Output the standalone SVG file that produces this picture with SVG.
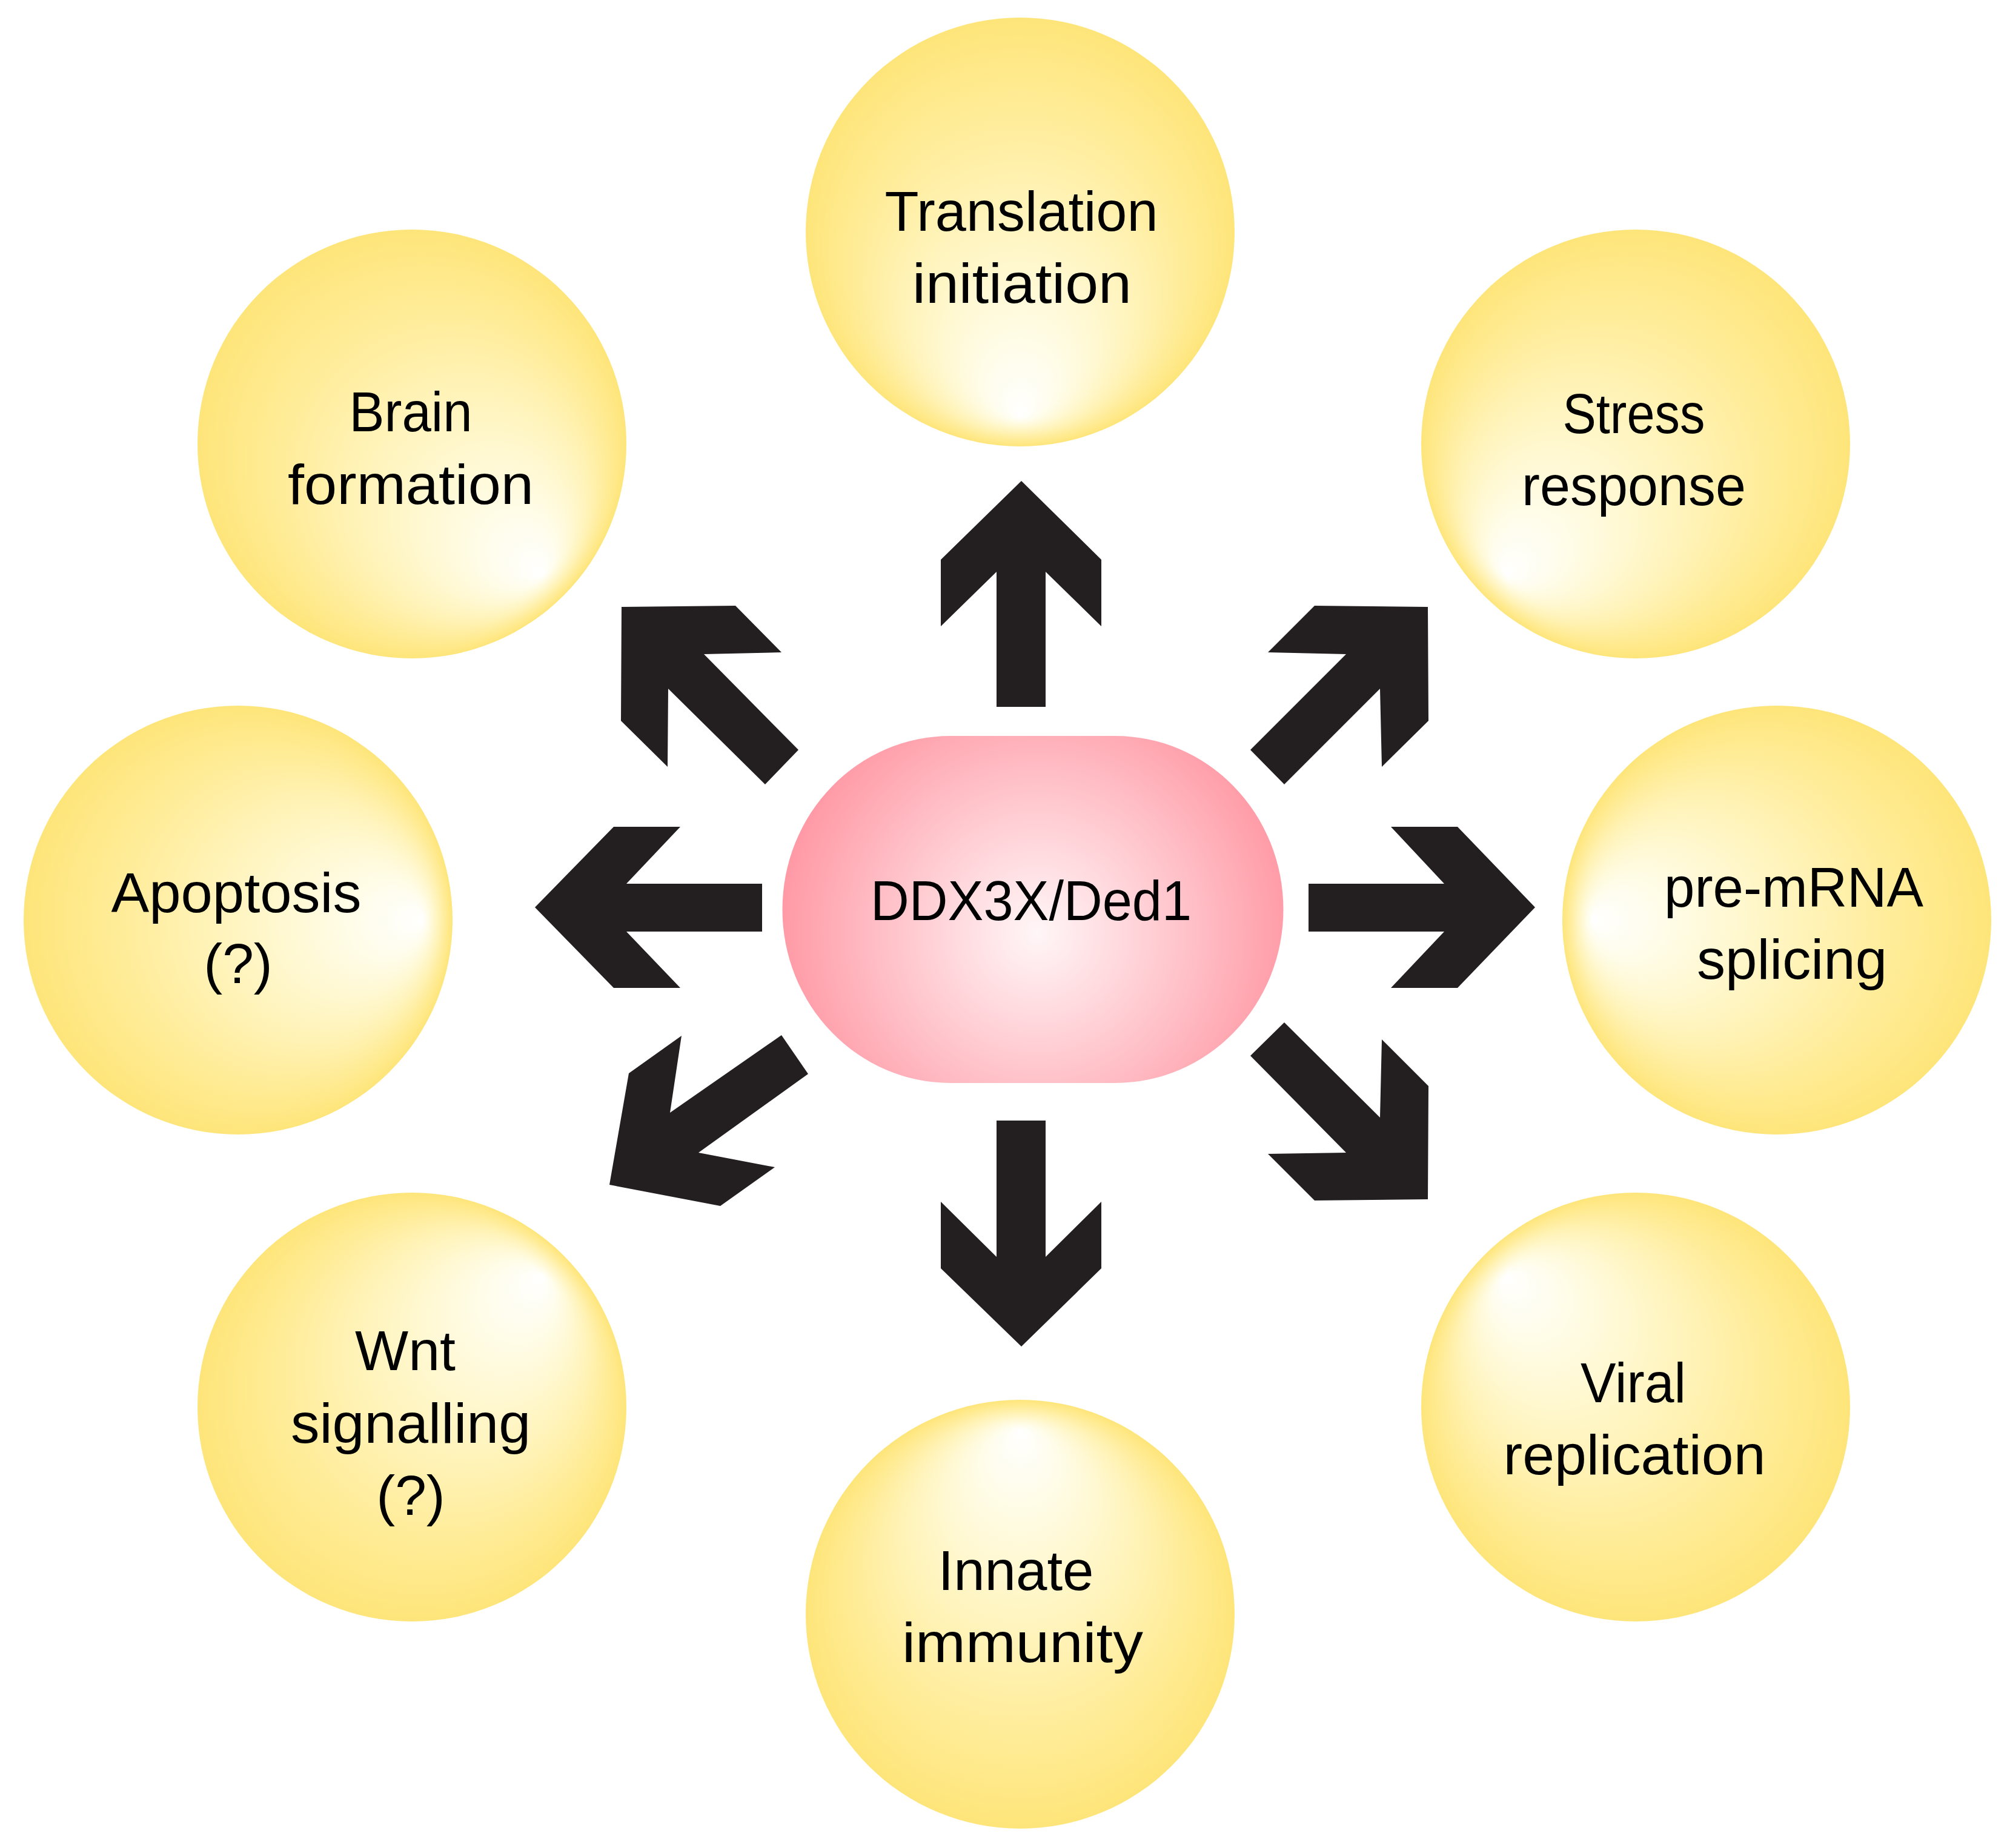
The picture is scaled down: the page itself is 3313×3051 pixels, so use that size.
<svg xmlns="http://www.w3.org/2000/svg" width="3313" height="3051" viewBox="0 0 3313 3051">
  <defs>
    <radialGradient id="gYellow" cx="0.5" cy="0.5" r="0.5" fx="0.5" fy="0.93">
      <stop offset="0" stop-color="#FFFFFF"/>
      <stop offset="0.2" stop-color="#FFFCE6"/>
      <stop offset="0.5" stop-color="#FFF4BD"/>
      <stop offset="0.8" stop-color="#FFEB93"/>
      <stop offset="1" stop-color="#FEE57A"/>
    </radialGradient>
    <radialGradient id="gPink" gradientUnits="userSpaceOnUse" cx="1712" cy="1540" r="435">
      <stop offset="0" stop-color="#FFF6F7"/>
      <stop offset="0.45" stop-color="#FFCDD3"/>
      <stop offset="1" stop-color="#FF97A3"/>
    </radialGradient>
  </defs>
  <style>
    .bubble { fill: url(#gYellow); }
    .lbl { font-family: "Liberation Sans", Arial, sans-serif; font-size: 93px; fill: #000000; text-anchor: middle; }
    .arrow { fill: #231F20; }
  </style>
  <rect x="0" y="0" width="3313" height="3051" fill="#FFFFFF"/>

  <g id="connectors">
    <polygon class="arrow" points="1686,794 1818,924 1818,1034 1726,944 1726,1167 1645,1167 1645,944 1553,1034 1553,924"/>
    <polygon class="arrow" points="1645,1850 1726,1850 1726,2075 1818,1984 1818,2094 1686,2223 1553,2094 1553,1984 1645,2075"/>
    <polygon class="arrow" points="883,1498 1013,1365 1123,1365 1034,1459 1258,1459 1258,1538 1034,1538 1123,1631 1013,1631"/>
    <polygon class="arrow" points="2534,1498 2406,1631 2296,1631 2384,1538 2160,1538 2160,1459 2384,1459 2296,1365 2406,1365"/>
    <polygon class="arrow" points="1026,1002 1214,1000 1290,1077 1162,1080 1318,1238 1263,1295 1103,1137 1102,1266 1025,1190"/>
    <polygon class="arrow" points="2357,1002 2170,1000 2093,1077 2222,1080 2064,1238 2120,1295 2278,1137 2281,1266 2358,1190"/>
    <polygon class="arrow" points="2120,1688 2064,1743 2222,1903 2093,1905 2170,1982 2357,1980 2358,1793 2281,1716 2278,1845"/>
    <polygon class="arrow" points="1290,1709 1334,1773 1153,1903 1279,1927 1189,1991 1006,1956 1038,1772 1125,1710 1106,1837"/>
  </g>

  <g id="center">
    <path d="M1569,1215 H1841 A277,286 0 0 1 1841,1788 H1569 A277,286 0 0 1 1569,1215 Z" fill="url(#gPink)"/>
    <text class="lbl" x="1702" y="1519" textLength="530" lengthAdjust="spacingAndGlyphs">DDX3X/Ded1</text>
  </g>

  <g id="translation">
    <circle class="bubble" cx="1684" cy="383" r="354"/>
    <text class="lbl" x="1686" y="381" textLength="451" lengthAdjust="spacingAndGlyphs">Translation</text>
    <text class="lbl" x="1687" y="500" textLength="362" lengthAdjust="spacingAndGlyphs">initiation</text>
  </g>

  <g id="brain">
    <circle class="bubble" cx="680" cy="733" r="354" transform="rotate(-45 680 733)"/>
    <text class="lbl" x="678" y="712" textLength="203" lengthAdjust="spacingAndGlyphs">Brain</text>
    <text class="lbl" x="678" y="832" textLength="406" lengthAdjust="spacingAndGlyphs">formation</text>
  </g>

  <g id="stress">
    <circle class="bubble" cx="2700" cy="733" r="354" transform="rotate(45 2700 733)"/>
    <text class="lbl" x="2697" y="715" textLength="235" lengthAdjust="spacingAndGlyphs">Stress</text>
    <text class="lbl" x="2697" y="834" textLength="370" lengthAdjust="spacingAndGlyphs">response</text>
  </g>

  <g id="apoptosis">
    <circle class="bubble" cx="393" cy="1519" r="354" transform="rotate(-90 393 1519)"/>
    <text class="lbl" x="390" y="1506" textLength="413" lengthAdjust="spacingAndGlyphs">Apoptosis</text>
    <text class="lbl" x="393" y="1623">(?)</text>
  </g>

  <g id="splicing">
    <circle class="bubble" cx="2933" cy="1519" r="354" transform="rotate(90 2933 1519)"/>
    <text class="lbl" x="2961" y="1497" textLength="428" lengthAdjust="spacingAndGlyphs">pre-mRNA</text>
    <text class="lbl" x="2958" y="1616" textLength="314" lengthAdjust="spacingAndGlyphs">splicing</text>
  </g>

  <g id="wnt">
    <circle class="bubble" cx="680" cy="2323" r="354" transform="rotate(-135 680 2323)"/>
    <text class="lbl" x="669" y="2262" textLength="166" lengthAdjust="spacingAndGlyphs">Wnt</text>
    <text class="lbl" x="678" y="2382" textLength="396" lengthAdjust="spacingAndGlyphs">signalling</text>
    <text class="lbl" x="678" y="2501">(?)</text>
  </g>

  <g id="viral">
    <circle class="bubble" cx="2700" cy="2323" r="354" transform="rotate(135 2700 2323)"/>
    <text class="lbl" x="2696" y="2315" textLength="174" lengthAdjust="spacingAndGlyphs">Viral</text>
    <text class="lbl" x="2698" y="2434" textLength="433" lengthAdjust="spacingAndGlyphs">replication</text>
  </g>

  <g id="innate">
    <circle class="bubble" cx="1684" cy="2665" r="354" transform="rotate(180 1684 2665)"/>
    <text class="lbl" x="1677" y="2625" textLength="257" lengthAdjust="spacingAndGlyphs">Innate</text>
    <text class="lbl" x="1688" y="2744" textLength="398" lengthAdjust="spacingAndGlyphs">immunity</text>
  </g>
</svg>
